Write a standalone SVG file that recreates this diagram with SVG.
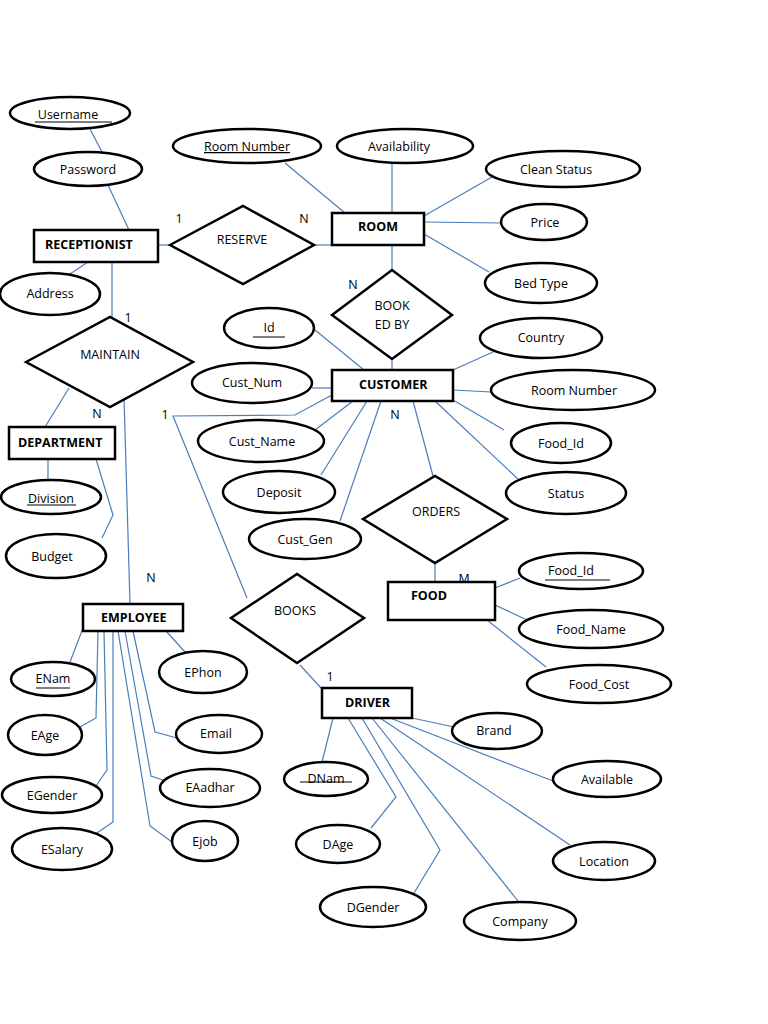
<svg xmlns="http://www.w3.org/2000/svg" width="768" height="1024" viewBox="0 0 768 1024">
<style>
.e{fill:#fff;stroke:#000;stroke-width:2.5}
.r{fill:#fff;stroke:#000;stroke-width:2.5}
.d{fill:#fff;stroke:#000;stroke-width:2.5}
text{font-family:"Open Sans","Liberation Sans",sans-serif;font-size:12.5px;fill:#000;text-anchor:middle}
.b{font-weight:bold;text-anchor:start}
.c line,.c polyline{stroke:#4a7ebb;stroke-width:1.2;fill:none}
.u{stroke:#000;stroke-width:1}
</style>
<rect width="768" height="1024" fill="#fff"/>
<g class="c" id="connectors">
<line x1="90" y1="129" x2="102" y2="152"/>
<line x1="108" y1="185" x2="129" y2="230"/>
<line x1="88" y1="262" x2="70" y2="274"/>
<line x1="158" y1="245" x2="170" y2="245"/>
<line x1="314" y1="245" x2="332" y2="245"/>
<line x1="285" y1="163" x2="345" y2="213"/>
<line x1="392" y1="163" x2="392" y2="213"/>
<line x1="424" y1="216" x2="492" y2="177"/>
<line x1="424" y1="222" x2="501" y2="223"/>
<line x1="424" y1="234" x2="489" y2="272"/>
<line x1="392" y1="245" x2="392" y2="270"/>
<line x1="392" y1="359" x2="392" y2="370"/>
<line x1="315" y1="330" x2="364" y2="370"/>
<line x1="312" y1="388" x2="332" y2="388"/>
<line x1="453" y1="370" x2="493" y2="352"/>
<line x1="453" y1="390" x2="491" y2="392"/>
<line x1="453" y1="400" x2="504" y2="430"/>
<line x1="435" y1="401" x2="518" y2="479"/>
<line x1="353" y1="401" x2="315" y2="430"/>
<line x1="367" y1="401" x2="321" y2="475"/>
<line x1="381" y1="401" x2="340" y2="521"/>
<line x1="413" y1="401" x2="433" y2="476"/>
<line x1="435" y1="563" x2="435" y2="582"/>
<polyline points="332,395 295,415 173,416 247,598"/>
<line x1="112" y1="262" x2="112" y2="317"/>
<line x1="69" y1="388" x2="45" y2="427"/>
<line x1="124" y1="397" x2="130" y2="604"/>
<line x1="48" y1="459" x2="48" y2="480"/>
<polyline points="96,459 113,515 102,538"/>
<line x1="495" y1="588" x2="520" y2="578"/>
<line x1="495" y1="605" x2="527" y2="620"/>
<line x1="487" y1="620" x2="546" y2="667"/>
<line x1="300" y1="665" x2="321" y2="688"/>
<line x1="83" y1="628" x2="70" y2="662"/>
<polyline points="98,631 96,718 80,727"/>
<polyline points="104,631 107,770 96,786"/>
<polyline points="113,631 113,822 94,835"/>
<polyline points="118,631 150,826 172,842"/>
<polyline points="125,631 151,776 172,783"/>
<polyline points="133,631 155,732 177,738"/>
<line x1="166" y1="631" x2="185" y2="652"/>
<line x1="333" y1="718" x2="322" y2="762"/>
<polyline points="348,718 396,797 371,828"/>
<polyline points="362,718 440,850 414,893"/>
<line x1="372" y1="718" x2="518" y2="901"/>
<line x1="380" y1="718" x2="570" y2="845"/>
<line x1="390" y1="718" x2="553" y2="781"/>
<line x1="412" y1="718" x2="454" y2="727"/>
</g>
<g id="receptionist"><rect class="r" x="34" y="230" width="124" height="32"/><text class="b" x="45" y="249">RECEPTIONIST</text></g>
<g id="room"><rect class="r" x="332" y="213" width="92" height="32"/><text class="b" x="358" y="231">ROOM</text></g>
<g id="customer"><rect class="r" x="332" y="370" width="121" height="31"/><text class="b" x="359" y="389">CUSTOMER</text></g>
<g id="department"><rect class="r" x="9" y="427" width="106" height="32"/><text class="b" x="18" y="447">DEPARTMENT</text></g>
<g id="employee"><rect class="r" x="83" y="604" width="100" height="27"/><text class="b" x="101" y="622">EMPLOYEE</text></g>
<g id="food"><rect class="r" x="388" y="582" width="107" height="38"/><text class="b" x="411" y="600">FOOD</text></g>
<g id="driver"><rect class="r" x="322" y="688" width="90" height="30"/><text class="b" x="345" y="707">DRIVER</text></g>
<g id="reserve"><polygon class="d" points="170,245 243,206 314,245 243,284"/><text x="242" y="244">RESERVE</text></g>
<g id="bookedby"><polygon class="d" points="332,315 392,270 452,315 392,359"/><text x="392" y="310">BOOK</text><text x="392" y="329">ED BY</text></g>
<g id="maintain"><polygon class="d" points="26,362 110,317 193,362 110,407"/><text x="110" y="359">MAINTAIN</text></g>
<g id="orders"><polygon class="d" points="363,519 435,476 507,519 435,563"/><text x="436" y="516">ORDERS</text></g>
<g id="books"><polygon class="d" points="231,618 297,574 364,618 297,663"/><text x="295" y="615">BOOKS</text></g>
<g id="a-username"><ellipse class="e" cx="70" cy="113" rx="60" ry="16"/><text x="68" y="119">Username</text><line class="u" x1="35" y1="122" x2="112" y2="122"/></g>
<g id="a-password"><ellipse class="e" cx="88" cy="169" rx="54" ry="17"/><text x="88" y="174">Password</text></g>
<g id="a-roomnum"><ellipse class="e" cx="247" cy="146" rx="74" ry="17"/><text x="247" y="151" text-decoration="underline">Room Number</text></g>
<g id="a-avail"><ellipse class="e" cx="405" cy="146" rx="68" ry="17"/><text x="399" y="151">Availability</text></g>
<g id="a-clean"><ellipse class="e" cx="563" cy="169" rx="77" ry="18"/><text x="556" y="174">Clean Status</text></g>
<g id="a-price"><ellipse class="e" cx="544" cy="222" rx="43" ry="18"/><text x="545" y="227">Price</text></g>
<g id="a-bed"><ellipse class="e" cx="541" cy="283" rx="56" ry="20"/><text x="541" y="288">Bed Type</text></g>
<g id="a-address"><ellipse class="e" cx="50" cy="294" rx="50" ry="21"/><text x="50" y="298">Address</text></g>
<g id="a-id"><ellipse class="e" cx="269" cy="328" rx="45" ry="20"/><text x="269" y="332">Id</text><line class="u" x1="253" y1="337" x2="285" y2="337"/></g>
<g id="a-country"><ellipse class="e" cx="541" cy="338" rx="61" ry="20"/><text x="541" y="342">Country</text></g>
<g id="a-custnum"><ellipse class="e" cx="252" cy="383" rx="60" ry="20"/><text x="252" y="387">Cust_Num</text></g>
<g id="a-roomnum2"><ellipse class="e" cx="573" cy="390" rx="82" ry="20"/><text x="574" y="395">Room Number</text></g>
<g id="a-custname"><ellipse class="e" cx="261" cy="441" rx="63" ry="21"/><text x="262" y="446">Cust_Name</text></g>
<g id="a-foodid"><ellipse class="e" cx="561" cy="443" rx="50" ry="20"/><text x="561" y="448">Food_Id</text></g>
<g id="a-deposit"><ellipse class="e" cx="279" cy="492" rx="56" ry="21"/><text x="279" y="497">Deposit</text></g>
<g id="a-status"><ellipse class="e" cx="566" cy="493" rx="60" ry="21"/><text x="566" y="498">Status</text></g>
<g id="a-division"><ellipse class="e" cx="51" cy="497" rx="50" ry="17"/><text x="51" y="503">Division</text><line class="u" x1="27" y1="505" x2="76" y2="505"/></g>
<g id="a-custgen"><ellipse class="e" cx="305" cy="539" rx="56" ry="20"/><text x="305" y="544">Cust_Gen</text></g>
<g id="a-budget"><ellipse class="e" cx="56" cy="556" rx="50" ry="22"/><text x="52" y="561">Budget</text></g>
<g id="a-foodid2"><ellipse class="e" cx="581" cy="571" rx="62" ry="18"/><text x="571" y="575">Food_Id</text><line class="u" x1="545" y1="580" x2="610" y2="580"/></g>
<g id="a-foodname"><ellipse class="e" cx="591" cy="629" rx="72" ry="19"/><text x="591" y="634">Food_Name</text></g>
<g id="a-foodcost"><ellipse class="e" cx="599" cy="684" rx="72" ry="19"/><text x="599" y="689">Food_Cost</text></g>
<g id="a-ephon"><ellipse class="e" cx="203" cy="672" rx="44" ry="21"/><text x="203" y="677">EPhon</text></g>
<g id="a-enam"><ellipse class="e" cx="53" cy="679" rx="42" ry="17"/><text x="53" y="683">ENam</text><line class="u" x1="36" y1="688" x2="70" y2="688"/></g>
<g id="a-email"><ellipse class="e" cx="219" cy="734" rx="43" ry="19"/><text x="216" y="738">Email</text></g>
<g id="a-eage"><ellipse class="e" cx="45" cy="735" rx="37" ry="20"/><text x="45" y="740">EAge</text></g>
<g id="a-brand"><ellipse class="e" cx="497" cy="731" rx="45" ry="18"/><text x="494" y="735">Brand</text></g>
<g id="a-eaadhar"><ellipse class="e" cx="210" cy="788" rx="50" ry="19"/><text x="210" y="792">EAadhar</text></g>
<g id="a-available"><ellipse class="e" cx="607" cy="779" rx="54" ry="18"/><text x="607" y="784">Available</text></g>
<g id="a-dnam"><ellipse class="e" cx="326" cy="779" rx="42" ry="17"/><text x="326" y="783">DNam</text><line class="u" x1="300" y1="782" x2="352" y2="782"/></g>
<g id="a-egender"><ellipse class="e" cx="52" cy="795" rx="50" ry="18"/><text x="52" y="800">EGender</text></g>
<g id="a-ejob"><ellipse class="e" cx="205" cy="841" rx="33" ry="20"/><text x="205" y="846">Ejob</text></g>
<g id="a-esalary"><ellipse class="e" cx="62" cy="849" rx="50" ry="21"/><text x="62" y="854">ESalary</text></g>
<g id="a-dage"><ellipse class="e" cx="338" cy="844" rx="42" ry="19"/><text x="338" y="849">DAge</text></g>
<g id="a-location"><ellipse class="e" cx="604" cy="861" rx="51" ry="19"/><text x="604" y="866">Location</text></g>
<g id="a-dgender"><ellipse class="e" cx="373" cy="907" rx="53" ry="20"/><text x="373" y="912">DGender</text></g>
<g id="a-company"><ellipse class="e" cx="520" cy="921" rx="56" ry="19"/><text x="520" y="926">Company</text></g>
<g id="cardinalities">
<text x="179" y="223">1</text><text x="304" y="223">N</text><text x="353" y="289">N</text>
<text x="128" y="322">1</text><text x="97" y="418">N</text><text x="165" y="419">1</text>
<text x="395" y="419">N</text><text x="464" y="583">M</text><text x="151" y="582">N</text><text x="330" y="681">1</text>
</g>
</svg>
